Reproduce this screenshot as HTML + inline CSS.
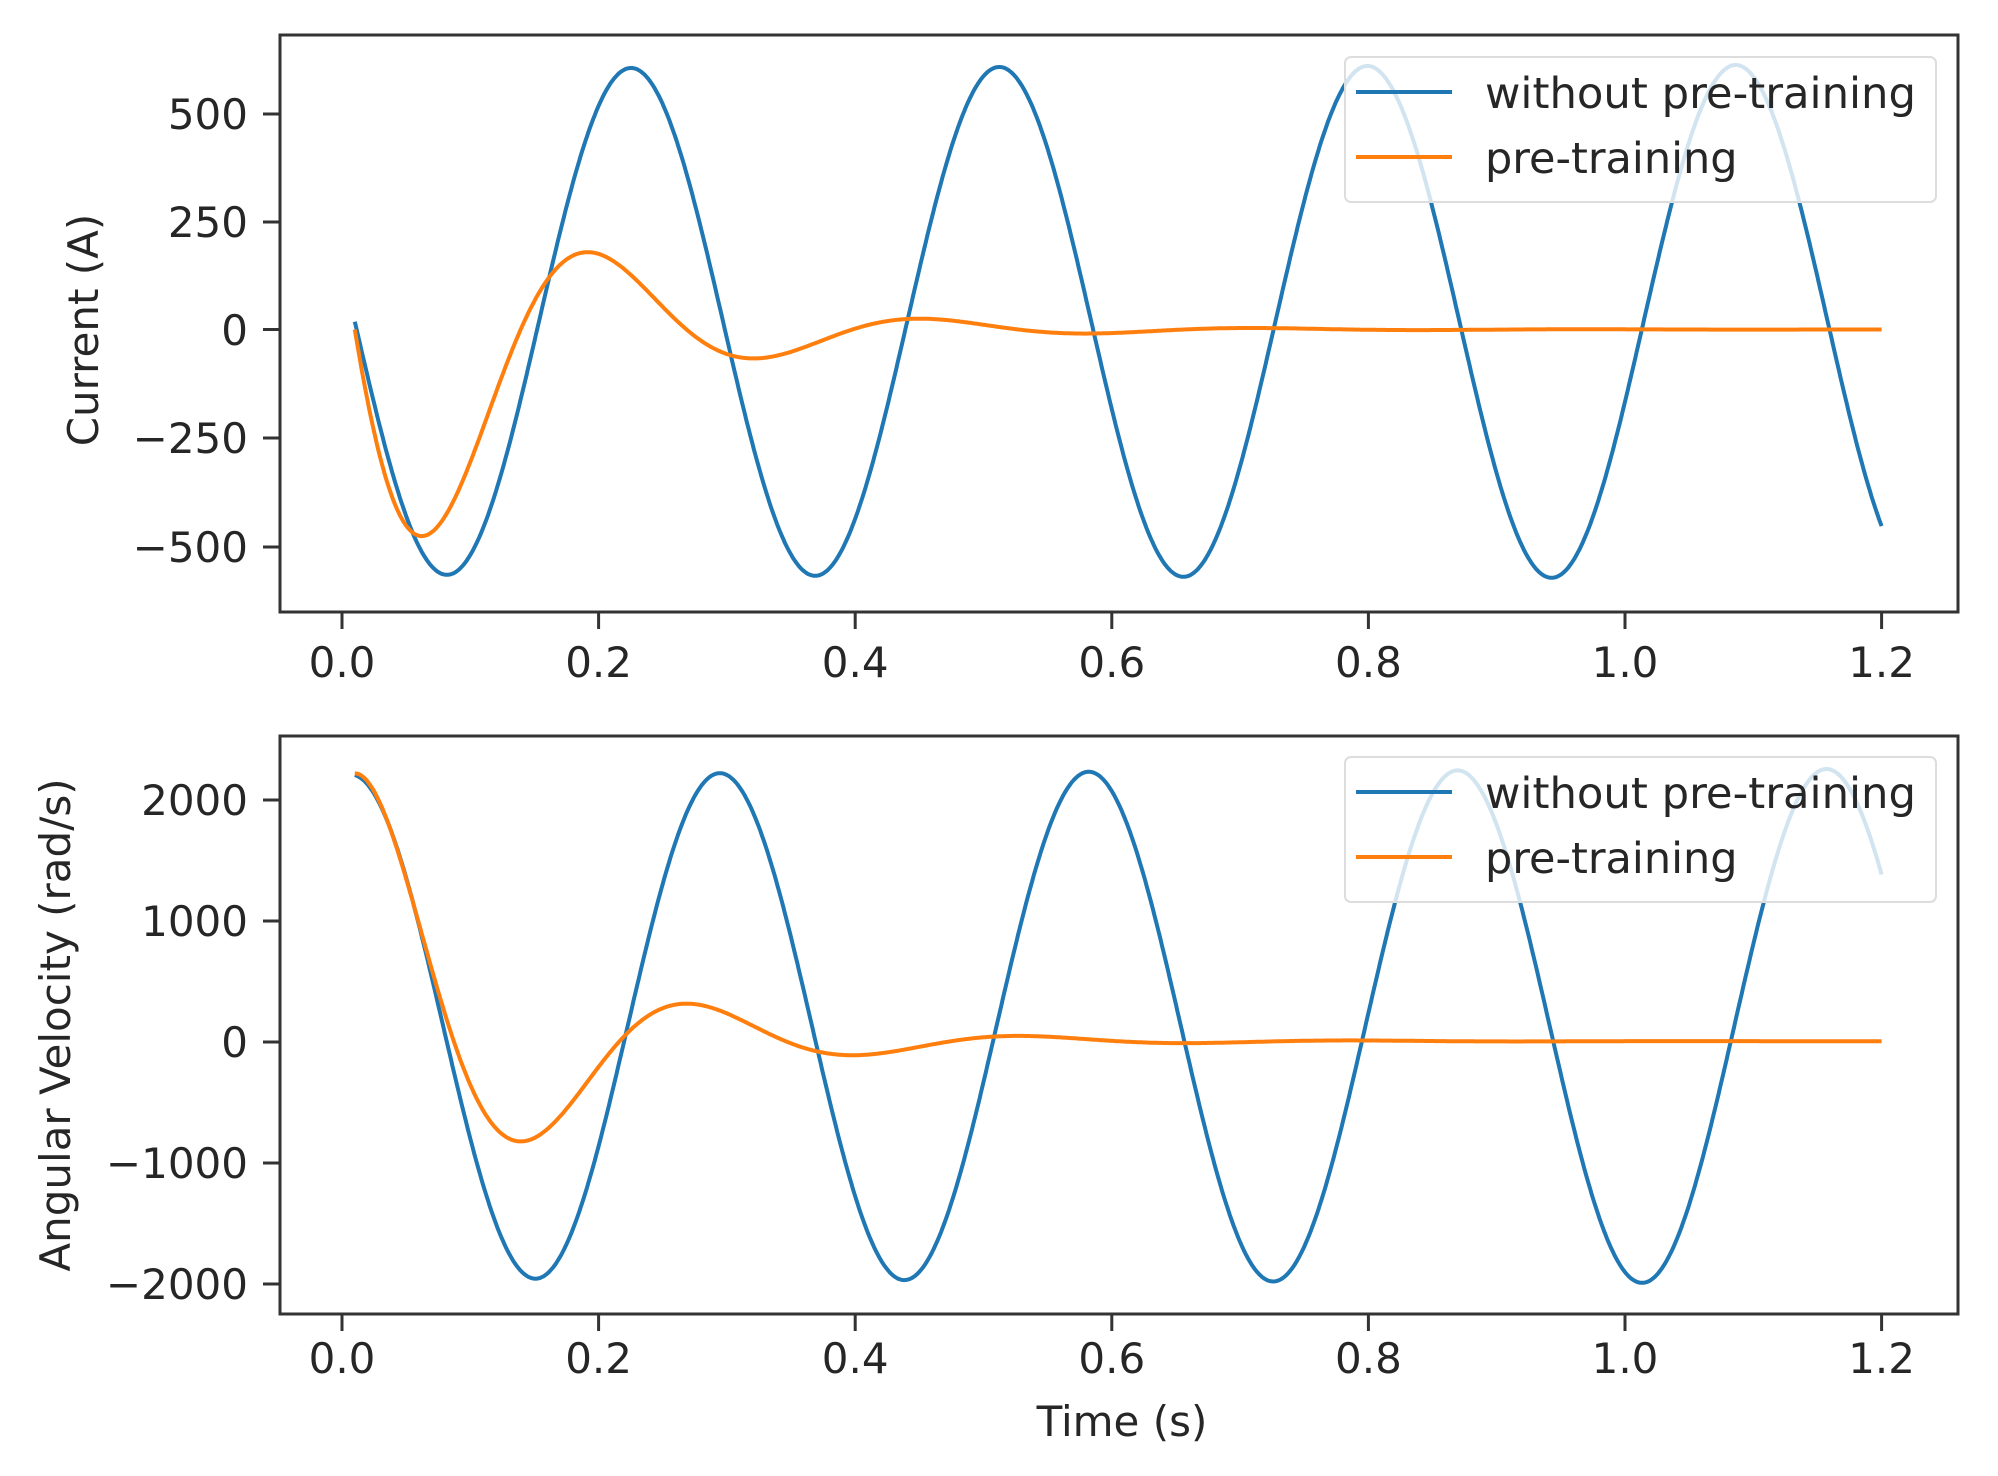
<!DOCTYPE html>
<html><head><meta charset="utf-8"><style>
html,body{margin:0;padding:0;background:#fff;}
svg{display:block;}
text{font-family:"DejaVu Sans","Liberation Sans",sans-serif;fill:#262626;}
</style></head><body>
<svg id="s" width="1998" height="1476" viewBox="0 0 1998 1476" xmlns="http://www.w3.org/2000/svg">
<rect width="1998" height="1476" fill="#fff"/>
<g id="plots"></g>
<rect x="280" y="35" width="1678" height="577" fill="none" stroke="#333" stroke-width="3"/>
<rect x="280" y="736" width="1678" height="578" fill="none" stroke="#333" stroke-width="3"/>
<g stroke="#333" stroke-width="3">
<line x1="263" y1="114" x2="280" y2="114"/><line x1="263" y1="222" x2="280" y2="222"/><line x1="263" y1="329.5" x2="280" y2="329.5"/><line x1="263" y1="438" x2="280" y2="438"/><line x1="263" y1="547" x2="280" y2="547"/>
<line x1="263" y1="800" x2="280" y2="800"/><line x1="263" y1="921" x2="280" y2="921"/><line x1="263" y1="1042" x2="280" y2="1042"/><line x1="263" y1="1163" x2="280" y2="1163"/><line x1="263" y1="1284" x2="280" y2="1284"/>
</g>
<g id="xt" stroke="#333" stroke-width="3"></g>
<g font-size="42" text-anchor="end">
<text x="248" y="129">500</text><text x="248" y="237">250</text><text x="248" y="345">0</text><text x="248" y="453">−250</text><text x="248" y="562">−500</text>
<text x="248" y="815">2000</text><text x="248" y="936">1000</text><text x="248" y="1057">0</text><text x="248" y="1178">−1000</text><text x="248" y="1299">−2000</text>
</g>
<g id="xl" font-size="42" text-anchor="middle"></g>
<text font-size="42" text-anchor="middle" transform="translate(98,330) rotate(-90)">Current (A)</text>
<text font-size="42" text-anchor="middle" transform="translate(70,1025) rotate(-90)">Angular Velocity (rad/s)</text>
<text font-size="42" x="1122" y="1436" text-anchor="middle">Time (s)</text>
<g id="legs"></g>
</svg>
<script>
var NS="http://www.w3.org/2000/svg";
function X(t){return 342+1283*t;}
function path(pts,Y,col){var d="";pts.forEach(function(p,i){d+=(i?"L":"M")+X(p[0]).toFixed(1)+","+Y(p[1]).toFixed(1);});
var e=document.createElementNS(NS,"path");e.setAttribute("d",d);e.setAttribute("fill","none");e.setAttribute("stroke",col);e.setAttribute("stroke-width","4");e.setAttribute("stroke-linejoin","round");document.getElementById("plots").appendChild(e);}
var Y1=function(v){return 329.5-0.436*v;},Y2=function(v){return 1042-0.121*v;};
var b1=[],b2=[],o1=[],o2=[];
var A=738,a=7.6,w=24.3,K=80,vo=2220,dt=0.001;
for(var i=0;i<=1190;i++){var t=0.01+i*dt,tp=t-0.01;
 b1.push([t,-(580+8*t)*Math.sin(2*Math.PI*tp/0.287)+18]);
 var amp=2080+40*t;var v=130+amp*Math.cos(2*Math.PI*(t-0.007)/0.2875);
 b2.push([t,v]);
 var c=-A*Math.exp(-a*tp)*Math.sin(w*tp);
 o1.push([t,c]);
 o2.push([t,vo]);
 var tm=tp+dt/2;vo+=K*dt*(-A*Math.exp(-a*tm)*Math.sin(w*tm));
}
path(b1,Y1,"#1f77b4");path(b2,Y2,"#1f77b4");
path(o1,Y1,"#ff7f0e");path(o2,Y2,"#ff7f0e");
var xt=document.getElementById("xt"),xl=document.getElementById("xl");
["0.0","0.2","0.4","0.6","0.8","1.0","1.2"].forEach(function(s,i){var x=X(i*0.2);
[[612,677],[1314,1373]].forEach(function(r){var l=document.createElementNS(NS,"line");l.setAttribute("x1",x);l.setAttribute("x2",x);l.setAttribute("y1",r[0]);l.setAttribute("y2",r[0]+17);xt.appendChild(l);
var tx=document.createElementNS(NS,"text");tx.setAttribute("x",x);tx.setAttribute("y",r[1]);tx.textContent=s;xl.appendChild(tx);});});
var legs=document.getElementById("legs");
[57,757].forEach(function(y0){
legs.insertAdjacentHTML("beforeend",'<rect x="1345" y="'+y0+'" width="591" height="145" rx="6" fill="#fff" fill-opacity="0.8" stroke="#ddd" stroke-width="2"/>'+
'<line x1="1356" x2="1452" y1="'+(y0+35)+'" y2="'+(y0+35)+'" stroke="#1f77b4" stroke-width="4"/>'+
'<line x1="1356" x2="1452" y1="'+(y0+100)+'" y2="'+(y0+100)+'" stroke="#ff7f0e" stroke-width="4"/>'+
'<text x="1485" y="'+(y0+51)+'" font-size="43" textLength="431" lengthAdjust="spacingAndGlyphs">without pre-training</text>'+
'<text x="1485" y="'+(y0+116)+'" font-size="43">pre-training</text>');});
</script>
</body></html>
